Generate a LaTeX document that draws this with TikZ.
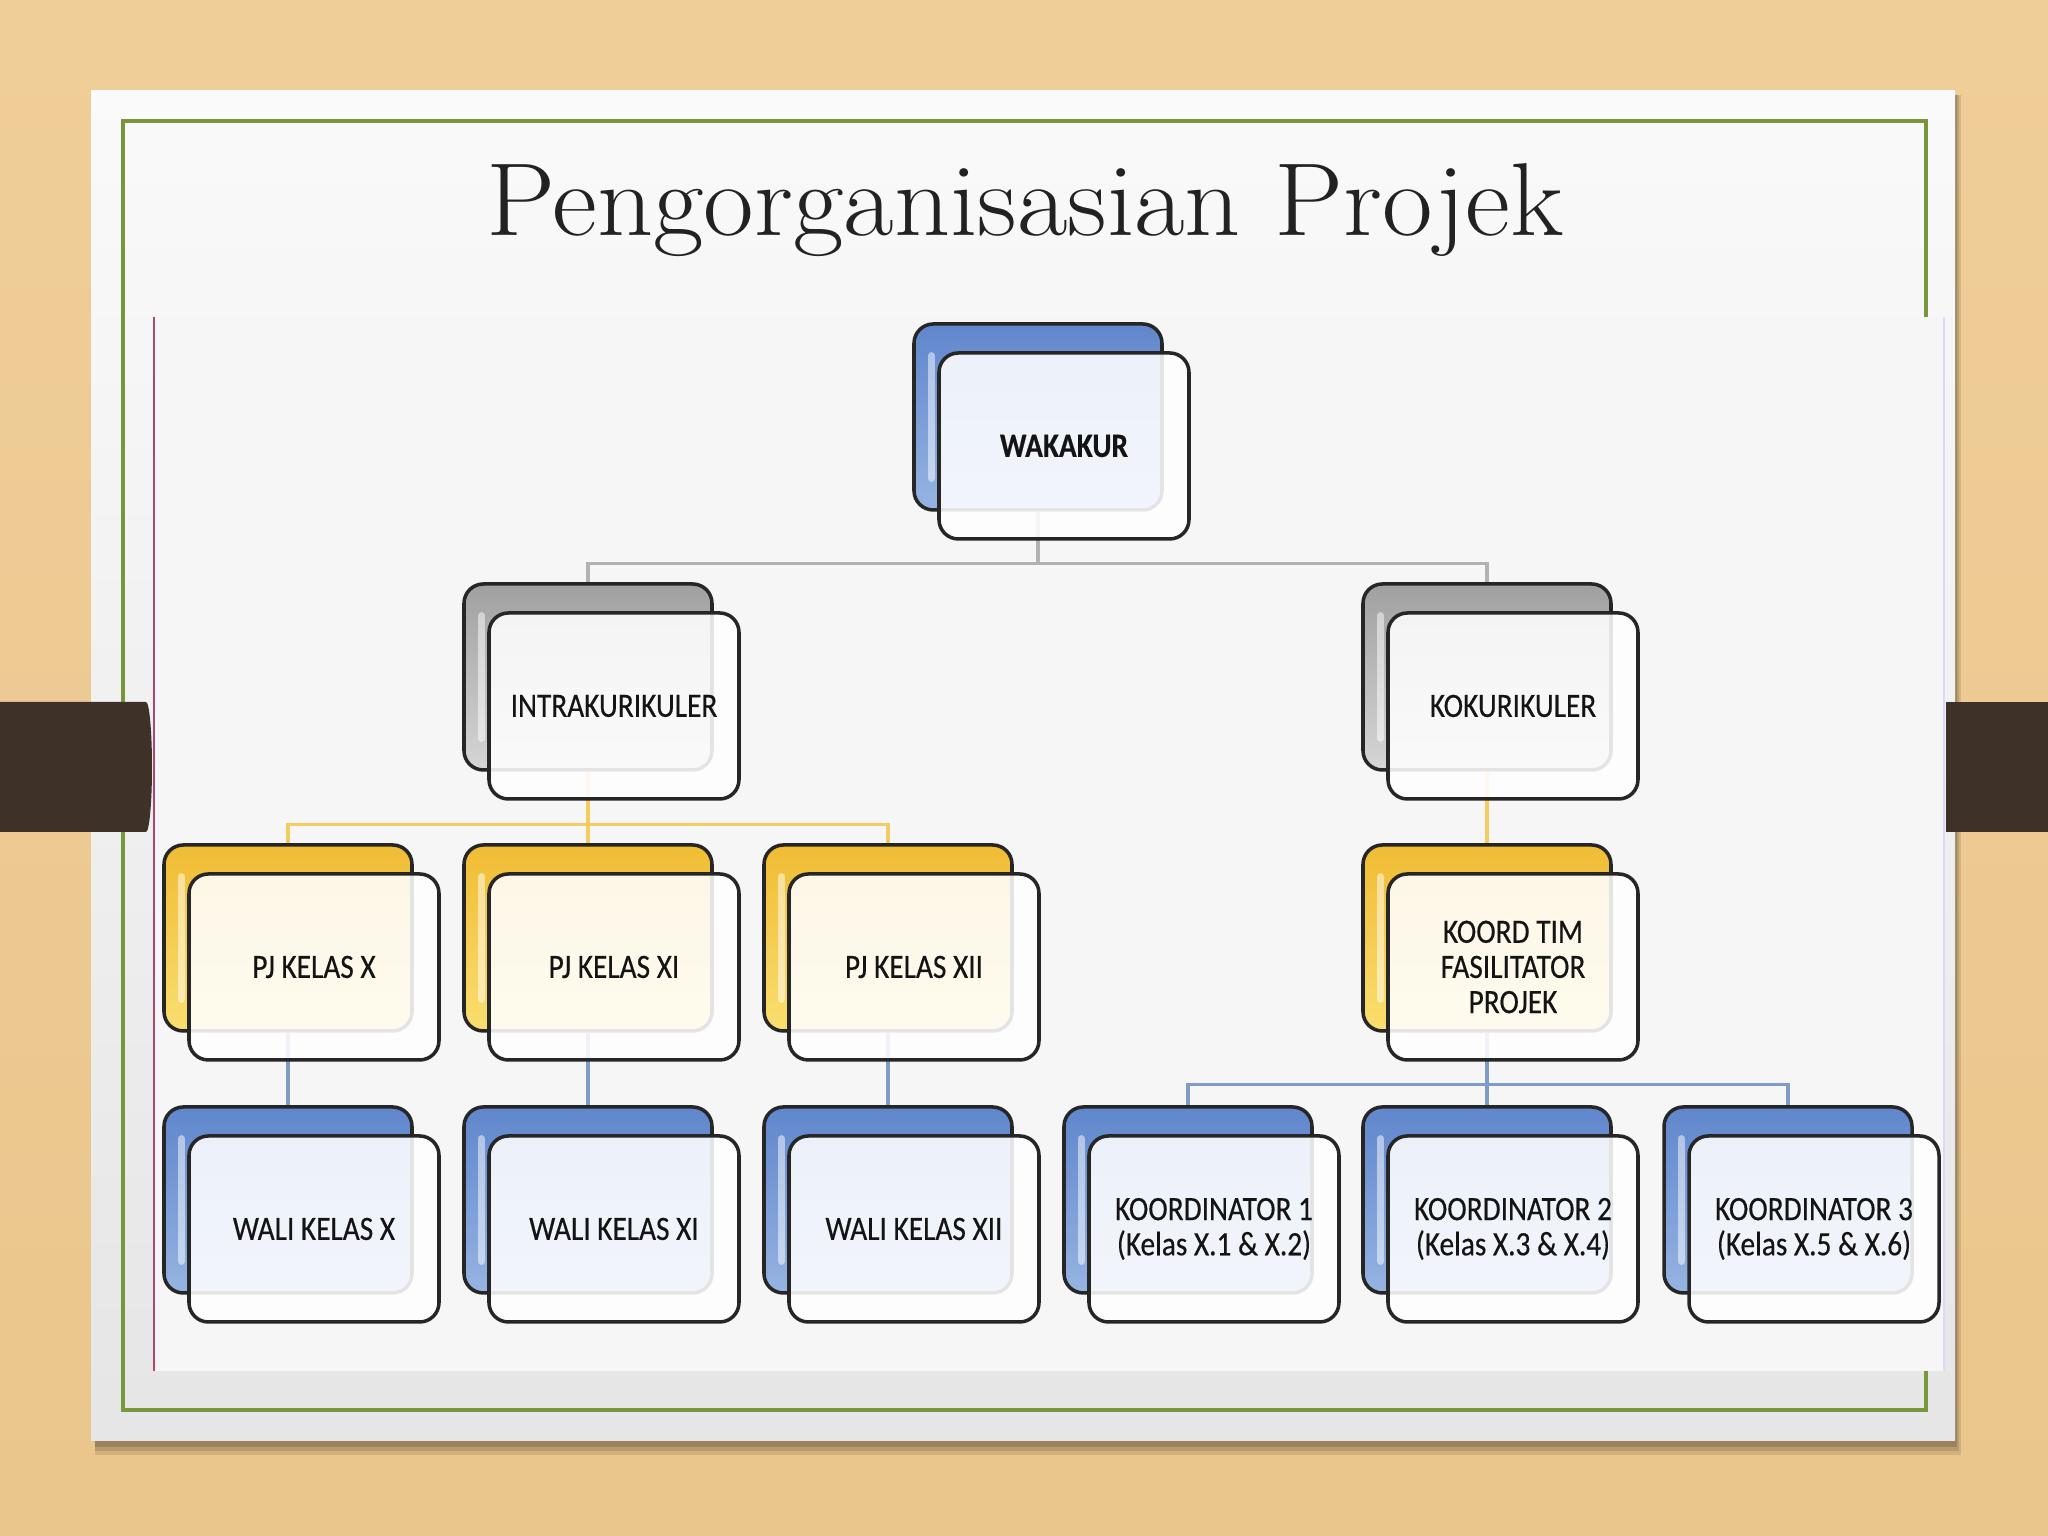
\documentclass[tikz,border=0pt]{standalone}
\usepackage{fontspec}
\usepackage{xcolor}
\usetikzlibrary{positioning, calc}
\newfontfamily\orgfont[FakeStretch=0.86, FakeBold=0.4]{Carlito}
\definecolor{woodTan}{RGB}{234,198,140}
\definecolor{woodLight}{RGB}{240,206,152}
\definecolor{bandBrown}{RGB}{62,50,40}
\definecolor{frameGreen}{RGB}{122,150,58}
\definecolor{shotGrey}{RGB}{246,246,246}
\definecolor{edgeMagenta}{RGB}{175,70,115}
\definecolor{titleInk}{RGB}{34,34,34}
\definecolor{darkText}{RGB}{20,20,20}
\definecolor{boxBlue}{RGB}{96,134,204}
\definecolor{boxBlueLight}{RGB}{150,180,226}
\definecolor{boxGold}{RGB}{240,188,52}
\definecolor{boxGoldLight}{RGB}{250,222,112}
\definecolor{boxGrey}{RGB}{160,160,160}
\definecolor{boxGreyLight}{RGB}{214,214,214}
\definecolor{linkGrey}{RGB}{178,178,178}
\definecolor{linkGold}{RGB}{244,204,98}
\definecolor{linkBlue}{RGB}{126,156,200}
\pgfdeclarelayer{backdrop}
\pgfdeclarelayer{links}
\pgfsetlayers{backdrop,links,main}
\tikzset{
    backbox/.style={
        rectangle,
        draw=black!85,
        line width=1pt,
        rounded corners=5.5pt,
        minimum width=2.48cm,
        minimum height=1.86cm,
        inner sep=0pt,
        path picture={
            \draw[white, opacity=0.5, line width=2pt, line cap=round]
                ([xshift=5pt,yshift=-9pt]path picture bounding box.north west) --
                ([xshift=5pt,yshift=9pt]path picture bounding box.south west);
        }
    },
    blueback/.style={backbox, top color=boxBlue, bottom color=boxBlueLight},
    goldback/.style={backbox, top color=boxGold, bottom color=boxGoldLight},
    greyback/.style={backbox, top color=boxGrey, bottom color=boxGreyLight},
    frontbox/.style={
        rectangle,
        draw=black!85,
        line width=1pt,
        rounded corners=5.5pt,
        fill=white,
        fill opacity=0.88,
        text opacity=1,
        minimum width=2.5cm,
        minimum height=1.86cm,
        align=center,
        text=darkText,
        font=\orgfont\fontsize{9.7}{10}\selectfont
    },
    greylink/.style={draw=linkGrey, line width=0.9pt},
    goldlink/.style={draw=linkGold, line width=0.9pt},
    bluelink/.style={draw=linkBlue, line width=0.9pt}
}
% one chart unit: coloured card behind, white card in front
\newcommand{\orgunit}[4]{%
    \node[#2] (#1b) at (#3) {};
    \node[frontbox] (#1) at ($(#1b)+(0.26,-0.29)$) {#4};
}

\begin{document}
\begin{tikzpicture}
    \useasboundingbox (0,0) rectangle (20.48,15.36);

    \begin{pgfonlayer}{backdrop}
        % desk, slide and frame
        \fill[top color=woodLight, bottom color=woodTan] (0,0) rectangle (20.48,15.36);
        \foreach \s/\o in {0.14/0.10, 0.10/0.12, 0.06/0.15}
            \fill[black, opacity=\o] (0.95,0.95-\s) rectangle (19.55+\s*0.4,14.41);
        \fill[top color=white!98!black, bottom color=white!90!black] (0.91,0.95) rectangle (19.55,14.45);
        \draw[frameGreen, line width=1.1pt] (1.23,1.26) rectangle (19.26,14.15);
        \fill[bandBrown] (0,7.04) -- (1.46,7.04) arc (-90:90:0.06 and 0.65) -- (0,8.34) -- cycle;
        \fill[bandBrown] (19.46,7.04) rectangle (20.48,8.34);
        \fill[shotGrey] (1.53,1.65) rectangle (19.45,12.19);
        \draw[edgeMagenta, line width=0.6pt] (1.54,1.65) -- (1.54,12.19);
        \draw[blue!15, line width=0.5pt] (19.44,1.65) -- (19.44,12.19);
        \node[anchor=base, text=titleInk, font=\fontsize{29.5}{30}\selectfont] (title) at (10.25,13.0) {\scalebox{1.06}[1]{Pengorganisasian Projek}};
    \end{pgfonlayer}

    \orgunit{wakakur}{blueback}{10.38,11.19}{\textbf{WAKAKUR}}
    \orgunit{intra}{greyback}{5.88,8.59}{INTRAKURIKULER}
    \orgunit{kokur}{greyback}{14.87,8.59}{KOKURIKULER}
    \orgunit{pjx}{goldback}{2.88,5.98}{PJ KELAS X}
    \orgunit{pjxi}{goldback}{5.88,5.98}{PJ KELAS XI}
    \orgunit{pjxii}{goldback}{8.88,5.98}{PJ KELAS XII}
    \orgunit{koordtim}{goldback}{14.87,5.98}{KOORD TIM\\FASILITATOR\\PROJEK}
    \orgunit{walix}{blueback}{2.88,3.36}{WALI KELAS X}
    \orgunit{walixi}{blueback}{5.88,3.36}{WALI KELAS XI}
    \orgunit{walixii}{blueback}{8.88,3.36}{WALI KELAS XII}
    \orgunit{koord1}{blueback}{11.88,3.36}{KOORDINATOR 1\\(Kelas X.1 \& X.2)}
    \orgunit{koord2}{blueback}{14.87,3.36}{KOORDINATOR 2\\(Kelas X.3 \& X.4)}
    \orgunit{koord3}{blueback}{17.88,3.36}{KOORDINATOR 3\\(Kelas X.5 \& X.6)}

    \begin{pgfonlayer}{links}
        \draw[greylink] (wakakurb.south) -- ++(0,-0.52) -| (intrab.north);
        \draw[greylink] (wakakurb.south) -- ++(0,-0.52) -| (kokurb.north);
        \foreach \k in {pjx,pjxi,pjxii}
            \draw[goldlink] (intrab.south) -- ++(0,-0.53) -| (\k b.north);
        \draw[goldlink] (kokurb.south) -- (koordtimb.north);
        \draw[bluelink] (pjxb.south) -- (walixb.north);
        \draw[bluelink] (pjxib.south) -- (walixib.north);
        \draw[bluelink] (pjxiib.south) -- (walixiib.north);
        \foreach \k in {koord1,koord2,koord3}
            \draw[bluelink] (koordtimb.south) -- ++(0,-0.52) -| (\k b.north);
    \end{pgfonlayer}
\end{tikzpicture}
\end{document}
